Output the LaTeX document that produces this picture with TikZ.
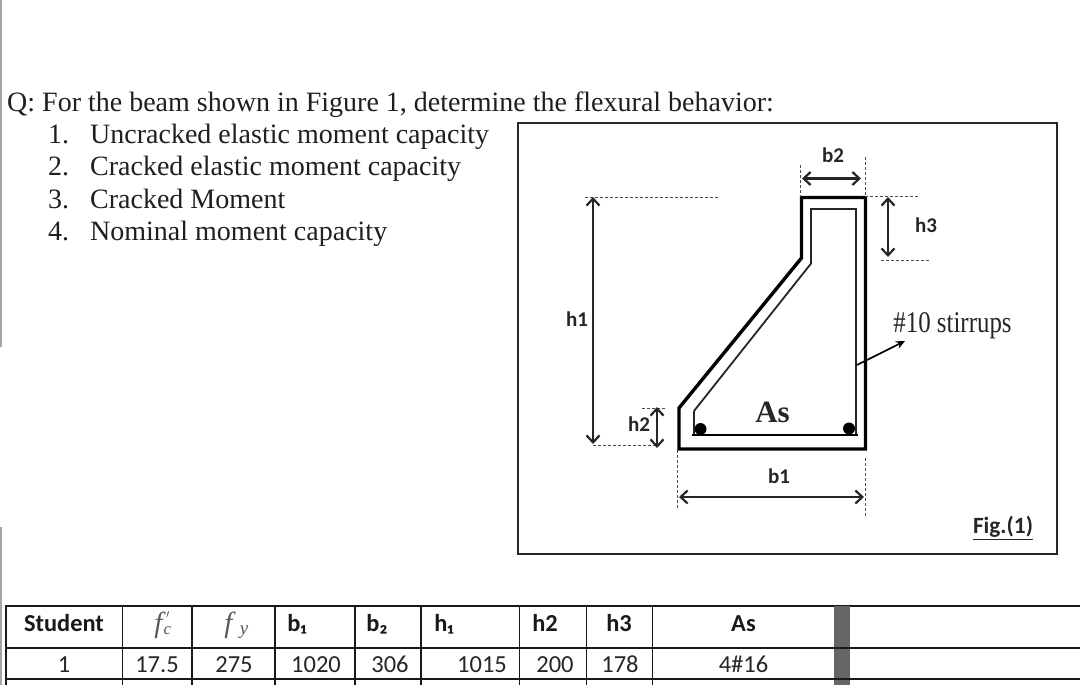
\documentclass[tikz,border=0pt]{standalone}
\usepackage{fontspec}
\setmainfont{Liberation Serif}
\newfontfamily\calib{Carlito}
\usetikzlibrary{arrows.meta}
\tikzset{
  x=1pt,y=-1pt,
  qtext/.style={anchor=base west,inner sep=0pt,font=\fontsize{28}{30}\selectfont,text=black!88},
  dimlabel/.style={inner sep=0pt,font=\calib\bfseries\fontsize{21}{24}\selectfont,text=black!85},
  hdr/.style={inner sep=0pt,anchor=base,font=\calib\bfseries\fontsize{24.4}{26}\selectfont,text=black!90},
  cell/.style={inner sep=0pt,anchor=base,font=\calib\fontsize{24.5}{26}\selectfont,text=black!85},
  dimarrow/.style={{Straight Barb[length=7pt,width=13pt,line width=2.2pt]}-{Straight Barb[length=7pt,width=13pt,line width=2.2pt]},line width=2.3pt,black!85},
  extline/.style={densely dashed,line width=0.9pt,black!70},
  gridline/.style={line width=1.6pt,black!90},
  beamouter/.style={line width=3.4pt,black,line join=miter},
  beaminner/.style={line width=1.8pt,black!85,line join=miter},
}
\begin{document}
\begin{tikzpicture}
\useasboundingbox (0,0) rectangle (1080,685);
\fill[white] (0,0) rectangle (1080,685);
% page edge
\fill[black!35] (0,0) rectangle (1.5,347);
\fill[black!35] (0,527) rectangle (1.5,685);
% question
\node[qtext] (q) at (7,111) {Q: For the beam shown in Figure 1, determine the flexural behavior:};
\node[qtext] (n1) at (48,143) {1.};
\node[qtext] (t1) at (90,143) {Uncracked elastic moment capacity};
\node[qtext] (n2) at (48,175) {2.};
\node[qtext] (t2) at (90,175) {Cracked elastic moment capacity};
\node[qtext] (n3) at (48,208) {3.};
\node[qtext] (t3) at (90,208) {Cracked Moment};
\node[qtext] (n4) at (48,240) {4.};
\node[qtext] (t4) at (90,240) {Nominal moment capacity};
% frame
\draw[line width=1.4pt,black!85] (518,123) rectangle (1057,554);
% beam
\draw[beamouter] (679,408) -- (801.5,258) -- (801.5,197.5) -- (865.5,197.5) -- (865.5,449) -- (679,449) -- cycle;
\draw[beaminner] (694,411) -- (811,263.5) -- (811,209) -- (856,209) -- (856,435);
\draw[beaminner] (694,411) -- (694,435);
\draw[line width=2pt,black] (692,435) -- (858,435);
\fill[black] (700.5,429) circle (6);
\fill[black] (849,428.5) circle (6);
% coordinates
\coordinate (h1t) at (593,197);
\coordinate (h1b) at (593,444);
\coordinate (h2t) at (657,407);
\coordinate (h2b) at (657,448);
\coordinate (b1l) at (679,497);
\coordinate (b1r) at (864,497);
\coordinate (b2l) at (802,178.5);
\coordinate (b2r) at (861,178.5);
\coordinate (h3t) at (888,197);
\coordinate (h3b) at (888,257);
\coordinate (stirA) at (857,365);
\coordinate (stirB) at (905,341);
% extension lines
\draw[extline] (585,197) -- (718,197);
\draw[extline] (593,445) -- (655,445);
\draw[extline] (642,408) -- (665,408);
\draw[extline] (677,450) -- (677,508);
\draw[extline] (865,458) -- (865,516);
\draw[extline] (800,165) -- (800,197);
\draw[extline] (865,157) -- (865,197);
\draw[extline] (865,196) -- (918,196);
\draw[extline] (881,260) -- (931,260);
% dimensions
\draw[dimarrow] (h1t) -- (h1b);
\draw[dimarrow] (h2t) -- (h2b);
\draw[dimarrow] (b1l) -- (b1r);
\draw[dimarrow] (b2l) -- (b2r);
\draw[dimarrow] (h3t) -- (h3b);
\draw[-{Stealth[length=9pt,width=8pt]},line width=1.6pt,black] (stirA) -- (stirB);
% labels
\node[dimlabel] (lh1) at (577,319) {h1};
\node[dimlabel] (lh2) at (639,424) {h2};
\node[dimlabel] (lb1) at (779,476) {b1};
\node[dimlabel] (lb2) at (833,155) {b2};
\node[dimlabel] (lh3) at (926,225) {h3};
\node[inner sep=0pt,font=\bfseries\fontsize{31}{34}\selectfont,text=black!85] (las) at (772.5,412) {As};
\node[inner sep=0pt,font=\fontsize{30}{32}\selectfont,text=black!85,xscale=0.83] (stir) at (952.5,326) {\#10 stirrups};
\node[inner sep=0pt,font=\calib\bfseries\fontsize{23.3}{26}\selectfont,text=black!85] (fig) at (1003,528) {\underline{Fig.(1)}};
% table
\foreach \yy in {606,648,679} \draw[gridline] (6,\yy) -- (1080,\yy);
\foreach \xx in {6,122.5,192,275,355,421,519.5,586.5,652.5}
  \draw[gridline] (\xx,605.3) -- (\xx,685);
\fill[black!60] (834,606) rectangle (850,685);
\foreach \yy in {648,679} \draw[gridline] (834,\yy) -- (850,\yy);
\node[hdr] (hs) at (64,631) {Student};
\node[hdr,font=\fontsize{29}{30}\selectfont] (hf) at (160,632) {\color{black!65}\textit{f}};
\node[inner sep=0pt,font=\fontsize{17}{18}\selectfont] (hfp) at (168,618) {\color{black!65}$'$};
\node[inner sep=0pt,font=\fontsize{17}{18}\selectfont] (hfc) at (167.5,631) {\color{black!65}\textit{c}};
\node[hdr,font=\fontsize{29}{30}\selectfont] (hy) at (230,632) {\color{black!65}\textit{f}};
\node[inner sep=0pt,font=\fontsize{19}{20}\selectfont] (hyy) at (244,632) {\color{black!65}\textit{y}};
\node[hdr] (hb1) at (297,631) {b₁};
\node[hdr] (hb2) at (377,631) {b₂};
\node[hdr] (hh1) at (444,631) {h₁};
\node[hdr] (hh2) at (545,631) {h2};
\node[hdr] (hh3) at (619,631) {h3};
\node[hdr] (has) at (743.5,631) {As};
\node[cell] (c1) at (64,672) {1};
\node[cell] (c2) at (157,672) {17.5};
\node[cell] (c3) at (234,672) {275};
\node[cell] (c4) at (316,672) {1020};
\node[cell] (c5) at (390,672) {306};
\node[cell] (c6) at (482,672) {1015};
\node[cell] (c7) at (555,672) {200};
\node[cell] (c8) at (620,672) {178};
\node[cell] (c9) at (743.5,672) {4\#16};
\end{tikzpicture}
\end{document}
